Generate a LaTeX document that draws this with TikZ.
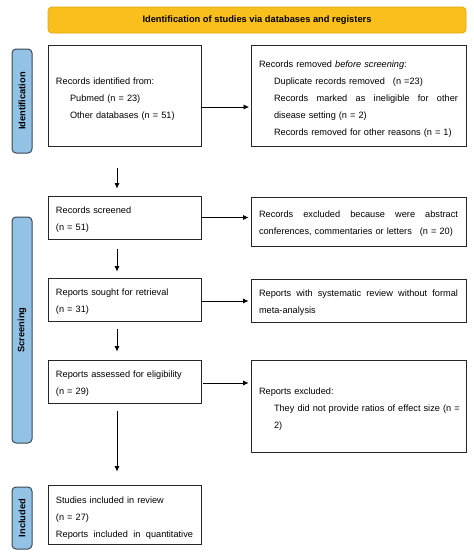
\documentclass[tikz,border=0pt]{standalone}
\usepackage{fontspec}
\setmainfont{Liberation Sans}
\usetikzlibrary{positioning,arrows.meta}
\definecolor{hdrorange}{HTML}{F9BF1C}
\definecolor{hdredge}{HTML}{E2A40E}
\definecolor{sideblue}{HTML}{92C2E6}
\definecolor{sideedge}{HTML}{3B4756}
\newcommand{\sline}[2]{{\spaceskip=0pt\xspaceskip=0pt\makebox[#1][s]{#2}}}
\newcommand{\lift}[1]{\rule{0pt}{#1}}

\begin{document}
\begin{tikzpicture}[x=1pt,y=1pt,on grid,font=\fontsize{9.2}{17}\selectfont,
   stage/.style={draw=black!85,line width=0.8pt,inner xsep=8pt,inner ysep=0pt,align=left},
   leftbox/.style={stage,text width=137pt},
   rightbox/.style={stage,text width=199pt},
   phase/.style={draw=sideedge,fill=sideblue,line width=1pt,rounded corners=4pt,rotate=90,
      minimum height=20pt,inner sep=0pt,font=\bfseries\fontsize{9.3}{11}\selectfont},
   flow/.style={-{Latex[length=5.5pt,width=5pt]},line width=0.7pt}]
   \useasboundingbox (0,0) rectangle (474,-555);

   \node[leftbox,minimum height=101pt] (ident) at (124.5,-95.5)
      {\lift{13.5pt}Records identified from:\\\hspace*{14pt}Pubmed (n = 23)\\\hspace*{14pt}Other databases (n = 51)};
   \node[rightbox,minimum height=101pt] (removed) [right=234pt of ident]
      {\lift{13.5pt}Records removed \textit{before screening}:\\
       \hspace*{15pt}Duplicate records removed\hspace{8pt}(n =23)\\
       \hspace*{15pt}\sline{184pt}{Records marked as ineligible for other}\\
       \hspace*{15pt}disease setting (n = 2)\\
       \hspace*{15pt}Records removed for other reasons (n = 1)};
   \node[draw=hdredge,fill=hdrorange,line width=0.8pt,rounded corners=4pt,minimum width=418pt,
      minimum height=26pt,inner sep=0pt,font=\bfseries\fontsize{9.3}{11}\selectfont]
      (header) [above right=75.5pt and 132.5pt of ident] {Identification of studies via databases and registers};

   \node[leftbox,minimum height=43pt] (screened) [below=122pt of ident] {\lift{10pt}Records screened\\(n = 51)};
   \node[rightbox,minimum height=49pt] (excluded) [below right=4pt and 234pt of screened]
      {\lift{10.5pt}\sline{199pt}{Records excluded because were abstract}\\conferences, commentaries or letters\hspace{8pt}(n = 20)};
   \node[leftbox,minimum height=43pt] (sought) [below=82pt of screened] {\lift{11pt}Reports sought for retrieval\\(n = 31)};
   \node[rightbox,minimum height=43pt] (review) [below right=1pt and 234pt of sought]
      {\lift{10pt}\sline{199pt}{Reports with systematic review without formal}\\meta-analysis};
   \node[leftbox,minimum height=43pt] (assessed) [below=82pt of sought] {\lift{11pt}Reports assessed for eligibility\\(n = 29)};
   \node[rightbox,minimum height=92pt] (rejected) [below right=24.5pt and 234pt of assessed]
      {\lift{13.5pt}Reports excluded:\\\hspace*{15pt}\mbox{They did not provide ratios of effect size (n =}\\\hspace*{15pt}2)};
   \node[leftbox,minimum height=59pt] (included) [below=133pt of assessed]
      {\lift{13.5pt}Studies included in review\\(n = 27)\\\sline{137pt}{Reports included in quantitative}};

   \node[phase,minimum width=104pt] (idphase) [below left=5.5pt and 102.5pt of ident] {Identification};
   \node[phase,minimum width=226pt] (scphase) [below left=112.5pt and 102.5pt of screened] {Screening};
   \node[phase,minimum width=62pt] (inphase) [below left=3.5pt and 102.5pt of included] {Included};

   \path[flow]
    ([yshift=-11.5pt]ident.east) edge[shorten >=1.5pt] ([yshift=-11.5pt]ident.east -| removed.west)
    (screened.east) edge[shorten >=2pt] (screened.east -| excluded.west)
    ([yshift=-1.5pt]sought.east) edge[shorten >=2pt] ([yshift=-1.5pt]sought.east -| review.west)
    ([yshift=-1.5pt]assessed.east) edge[shorten <=2pt,shorten >=2pt] ([yshift=-1.5pt]assessed.east -| rejected.west)
    ([xshift=-7.5pt]ident.south) edge[shorten <=22pt,shorten >=7pt] ([xshift=-7.5pt]screened.north)
    ([xshift=-7.5pt]screened.south) edge[shorten <=10pt,shorten >=6pt] ([xshift=-7.5pt]sought.north)
    ([xshift=-7.5pt]sought.south) edge[shorten <=8pt,shorten >=8pt] ([xshift=-7.5pt]assessed.north)
    ([xshift=-7.5pt]assessed.south) edge[shorten <=8pt,shorten >=13pt] ([xshift=-7.5pt]included.north);
\end{tikzpicture}
\end{document}
